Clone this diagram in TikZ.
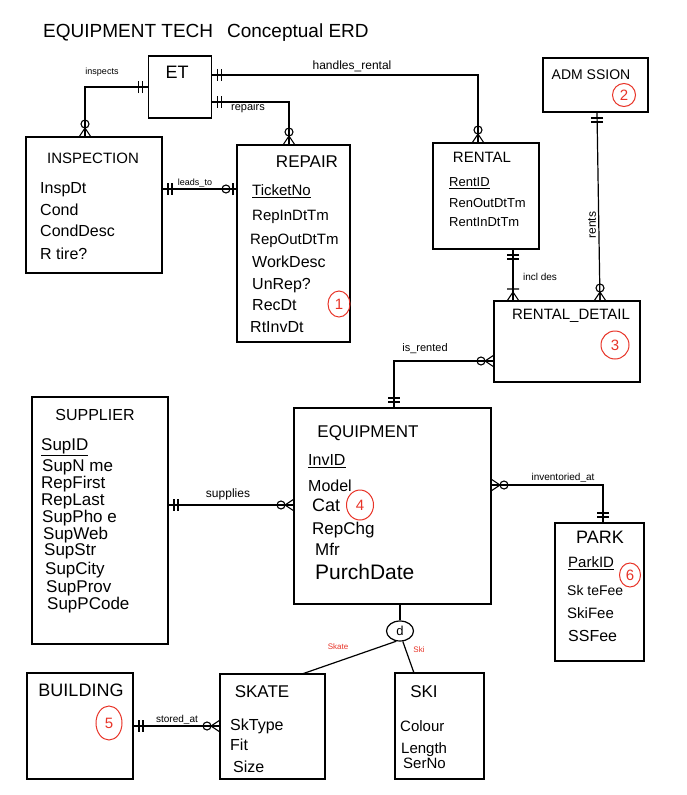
\documentclass[tikz,border=0pt]{standalone}
\usepackage{fontspec}
\setmainfont{Liberation Sans}
\usetikzlibrary{calc,shapes.geometric}
\definecolor{hred}{RGB}{232,52,40}
\newcommand{\fs}[1]{\fontsize{#1}{#1}\selectfont}
\begin{document}
\begin{tikzpicture}[x=1pt,y=-1pt,
  ent/.style={draw, line width=1.6pt, inner sep=0pt, outer sep=0pt, rectangle},
  ttl/.style={inner sep=0pt, font=\fs{16}},
  att/.style={anchor=mid west, inner sep=0pt, font=\fs{15}},
  lbl/.style={inner sep=0pt, font=\fs{10}},
  rel/.style={line width=1.2pt},
  num/.style={draw=hred, text=hred, ellipse, line width=1pt, inner sep=0pt, font=\fs{15}},
  erOne/.pic={\draw[line width=1.1pt] (6,-6)--(6,6) (10,-6)--(10,6);},
  erZmany/.pic={\draw[line width=1.1pt] (0,-6)--(9,0)--(0,6) (0,0)--(9,0); \draw[line width=1.1pt] (13,0) circle (4pt);},
  erZone/.pic={\draw[line width=1.1pt] (4,-6)--(4,6); \draw[line width=1.1pt] (11,0) circle (4pt);},
  erOmany/.pic={\draw[line width=1.1pt] (0,-6)--(9,0)--(0,6) (0,0)--(9,0) (12,-6)--(12,6);}
]
\useasboundingbox (0,0) rectangle (687,795);
\fill[white] (0,0) rectangle (687,795);

% title
\node[inner sep=0pt, anchor=mid west, font=\fs{19}] (title) at (43,35) {EQUIPMENT TECH\hspace{14pt}Conceptual ERD};

% entities
\node[ent, minimum width=63pt, minimum height=62pt] (et) at (180,87) {};
\node[ent, minimum width=136pt, minimum height=136pt] (insp) at (94,205) {};
\node[ent, minimum width=113pt, minimum height=197pt] (rep) at (293.5,243.5) {};
\node[ent, minimum width=106pt, minimum height=106pt] (rent) at (486,196) {};
\node[ent, minimum width=105pt, minimum height=54pt] (adm) at (595.5,85) {};
\node[ent, minimum width=146pt, minimum height=81pt] (rd) at (567,341.5) {};
\node[ent, minimum width=136pt, minimum height=247pt] (sup) at (100,520.5) {};
\node[ent, minimum width=197pt, minimum height=196pt] (eq) at (392.5,506) {};
\node[ent, minimum width=89pt, minimum height=138pt] (park) at (599.5,592) {};
\node[ent, minimum width=106pt, minimum height=106pt] (bld) at (80,726) {};
\node[ent, minimum width=105pt, minimum height=105pt] (sk) at (272.5,726.5) {};
\node[ent, minimum width=89pt, minimum height=106pt] (ski) at (439.5,726) {};

% entity titles
\node[ttl, font=\fs{18}] (etT) at (177,72) {ET};
\node[ttl, font=\fs{15}] (inspT) at (93,158) {INSPECTION};
\node[ttl, font=\fs{17}] (repT) at (307,162) {REPAIR};
\node[ttl, font=\fs{15}] (rentT) at (482,157) {RENTAL};
\node[ttl, font=\fs{14}] (admT) at (591,75) {ADM SSION};
\node[ttl, font=\fs{15}] (rdT) at (571,316) {RENTAL\_DETAIL};
\node[ttl, font=\fs{16}] (supT) at (95,415) {SUPPLIER};
\node[ttl, font=\fs{17}] (eqT) at (368,433) {EQUIPMENT};
\node[ttl, font=\fs{18}] (parkT) at (600,537) {PARK};
\node[ttl, font=\fs{18}] (bldT) at (81,690) {BUILDING};
\node[ttl, font=\fs{17}] (skT) at (262,692) {SKATE};
\node[ttl, font=\fs{17}] (skiT) at (424,692) {SKI};

% INSPECTION attributes
\node[att, font=\fs{16}] (i1) at (40,191) {InspDt};
\node[att, font=\fs{16}] (i2) at (40,213) {Cond};
\node[att, font=\fs{16}] (i3) at (40,234) {CondDesc};
\node[att, font=\fs{16}] (i4) at (40,257) {R tire?};

% REPAIR attributes
\node[att] (r1) at (252,193) {\underline{TicketNo}};
\node[att] (r2) at (252,218) {RepInDtTm};
\node[att] (r3) at (250,242) {RepOutDtTm};
\node[att, font=\fs{16}] (r4) at (252,265) {WorkDesc};
\node[att, font=\fs{16}] (r5) at (252,287) {UnRep?};
\node[att, font=\fs{16}] (r6) at (252,308) {RecDt};
\node[att, font=\fs{16}] (r7) at (250,330) {RtInvDt};

% RENTAL attributes
\node[att, font=\fs{13}] (n1) at (449,184) {\underline{RentID}};
\node[att, font=\fs{13}] (n2) at (449,205) {RenOutDtTm};
\node[att, font=\fs{13}] (n3) at (449,224) {RentInDtTm};

% SUPPLIER attributes
\node[att, font=\fs{17}] (s1) at (41,448) {\underline{SupID}};
\node[att, font=\fs{17}] (s2) at (42,469) {SupN me};
\node[att, font=\fs{17}] (s3) at (41,486) {RepFirst};
\node[att, font=\fs{17}] (s4) at (41,503) {RepLast};
\node[att, font=\fs{17}] (s5) at (42,520) {SupPho e};
\node[att, font=\fs{17}] (s6) at (43,537) {SupWeb};
\node[att, font=\fs{17}] (s7) at (44,553) {SupStr};
\node[att, font=\fs{17}] (s8) at (45,572) {SupCity};
\node[att, font=\fs{17}] (s9) at (46,590) {SupProv};
\node[att, font=\fs{17}] (s10) at (47,607) {SupPCode};

% EQUIPMENT attributes
\node[att, font=\fs{16}] (q1) at (308,463) {\underline{InvID}};
\node[att, font=\fs{16}] (q2) at (308,489) {Model};
\node[att, font=\fs{18}] (q3) at (312,509) {Cat};
\node[att, font=\fs{17}] (q4) at (312,532) {RepChg};
\node[att, font=\fs{17}] (q5) at (315,553) {Mfr};
\node[att, font=\fs{21}] (q6) at (315,577) {PurchDate};

% PARK attributes
\node[att, font=\fs{15}] (p1) at (568,565) {\underline{ParkID}};
\node[att, font=\fs{14}] (p2) at (567,593) {Sk teFee};
\node[att, font=\fs{15}] (p3) at (567,616) {SkiFee};
\node[att, font=\fs{16}] (p4) at (568,639) {SSFee};

% SKATE attributes
\node[att, font=\fs{16}] (k1) at (230,728) {SkType};
\node[att, font=\fs{16}] (k2) at (230,748) {Fit};
\node[att, font=\fs{16}] (k3) at (233,770) {Size};

% SKI attributes
\node[att, font=\fs{15}] (y1) at (400,729) {Colour};
\node[att, font=\fs{15}] (y2) at (401,751) {Length};
\node[att, font=\fs{15}] (y3) at (403,766) {SerNo};

% red numbers
\node[num, minimum width=22pt, minimum height=26pt] (n1c) at (339,304) {1};
\node[num, minimum width=23pt, minimum height=23pt] (n2c) at (624,95) {2};
\node[num, minimum width=28pt, minimum height=28pt] (n3c) at (615,345) {3};
\node[num, minimum width=27pt, minimum height=30pt] (n4c) at (360,505) {4};
\node[num, minimum width=26pt, minimum height=34pt] (n5c) at (109,723) {5};
\node[num, minimum width=21pt, minimum height=24pt] (n6c) at (630,575) {6};

% coordinates for connector ends
\coordinate (etW) at (et.west);
\coordinate (inspTop) at ($(insp.north west)+(59,0)$);
\coordinate (etE1) at ($(et.north east)+(0,19)$);
\coordinate (rentTop) at ($(rent.north west)+(45,0)$);
\coordinate (etE2) at ($(et.north east)+(0,46)$);
\coordinate (repTop) at ($(rep.north west)+(52,0)$);
\coordinate (inspE) at ($(insp.north east)+(0,52)$);
\coordinate (rentBot) at ($(rent.south west)+(80,0)$);
\coordinate (admBot) at ($(adm.south west)+(54,0)$);
\coordinate (rdTopR) at ($(rd.north west)+(106,0)$);
\coordinate (eqTop) at ($(eq.north west)+(100,0)$);
\coordinate (rdW) at ($(rd.south west)+(0,-21)$);
\coordinate (supE) at ($(sup.north east)+(0,108)$);
\coordinate (eqE) at ($(eq.north east)+(0,77)$);
\coordinate (parkTop) at ($(park.north west)+(48,0)$);
\coordinate (eqBot) at ($(eq.south west)+(106,0)$);
\coordinate (skTop) at ($(sk.north west)+(82,0)$);
\coordinate (skiTop) at ($(ski.north west)+(19,0)$);
\coordinate (bldE) at (bld.east);

% inspects
\draw[rel] (etW) -| (inspTop);
\pic[rotate=180] at (etW) {erOne};
\pic[rotate=90] at (inspTop) {erZmany};
\node[lbl, font=\fs{9}] (lInsp) at (102,72) {inspects};

% handles_rental
\draw[rel] (etE1) -| (rentTop);
\pic at (etE1) {erOne};
\pic[rotate=90] at (rentTop) {erZmany};
\node[lbl, font=\fs{12}] (lHand) at (352,66) {handles\_rental};

% repairs
\draw[rel] (etE2) -| (repTop);
\pic at (etE2) {erOne};
\pic[rotate=90] at (repTop) {erZmany};
\node[lbl, font=\fs{11}] (lRep) at (248,108) {repairs};

% leads_to
\draw[rel] (inspE) -- (inspE -| rep.west);
\pic at (inspE) {erOne};
\pic[rotate=180] at (inspE -| rep.west) {erZone};
\node[lbl, font=\fs{9}] (lLead) at (195,183) {leads\_to};

% includes
\draw[rel] (rentBot) -- (rentBot |- rd.north);
\pic[rotate=270] at (rentBot) {erOne};
\pic[rotate=90] at (rentBot |- rd.north) {erOmany};
\node[lbl, font=\fs{10}] (lIncl) at (540,277) {incl des};

% rents
\draw[rel] (admBot) -- (rdTopR);
\pic[rotate=270] at (admBot) {erOne};
\pic[rotate=90] at (rdTopR) {erZmany};
\node[lbl, font=\fs{12}, rotate=90] (lRents) at (592,225) {rents};

% is_rented
\draw[rel] (eqTop) |- (rdW);
\pic[rotate=90] at (eqTop) {erOne};
\pic[rotate=180] at (rdW) {erZmany};
\node[lbl, font=\fs{11}] (lIsr) at (425,349) {is\_rented};

% supplies
\draw[rel] (supE) -- (supE -| eq.west);
\pic at (supE) {erOne};
\pic[rotate=180] at (supE -| eq.west) {erZmany};
\node[lbl, font=\fs{12}] (lSup) at (228,494) {supplies};

% inventoried_at
\draw[rel] (eqE) -| (parkTop);
\pic at (eqE) {erZmany};
\pic[rotate=90] at (parkTop) {erOne};
\node[lbl, font=\fs{10}] (lInv) at (563,478) {inventoried\_at};

% stored_at
\draw[rel] (bldE) -- (bldE -| sk.west);
\pic at (bldE) {erOne};
\pic[rotate=180] at (bldE -| sk.west) {erZmany};
\node[lbl, font=\fs{10}] (lSto) at (177,720) {stored\_at};

% disjoint subtype
\node[draw, ellipse, line width=1.2pt, minimum width=27pt, minimum height=20pt, inner sep=0pt, font=\fs{13}] (dc) at (400,631) {d};
\draw[rel] (eqBot) -- (dc.north);
\draw[rel] (dc.250) -- (skTop);
\draw[rel] (dc.285) -- (skiTop);
\node[lbl, font=\fs{8}, text=hred] (lSkate) at (338,647) {Skate};
\node[lbl, font=\fs{8}, text=hred] (lSki) at (419,650) {Ski};
\end{tikzpicture}
\end{document}
